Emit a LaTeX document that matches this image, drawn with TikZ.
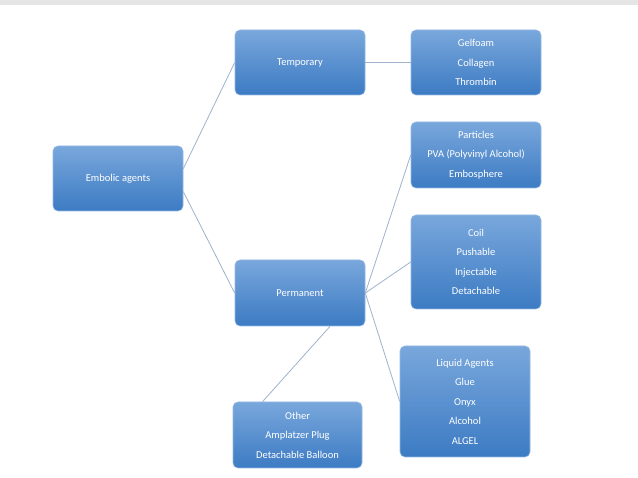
\documentclass[tikz,border=0pt]{standalone}
\usepackage{fontspec}
\setmainfont{Carlito}
\usetikzlibrary{calc}
\definecolor{btop}{HTML}{79A7DC}
\definecolor{bbot}{HTML}{3C7BC3}
\definecolor{edge}{HTML}{9FB3CC}
\begin{document}
\begin{tikzpicture}[x=1pt,y=-1pt,
 box/.style={rectangle,rounded corners=5pt,top color=btop,bottom color=bbot,draw=btop!80!white,line width=0.6pt,text=white,align=center,font=\fontsize{10.5}{19.5}\selectfont,inner sep=0pt},
 ln/.style={draw=edge,line width=0.8pt}]
\useasboundingbox[fill=white] (0,0) rectangle (638,478);
\fill[black!10] (0,0) rectangle (638,5);
\node[box,minimum width=130pt,minimum height=65pt] (emb) at (118,178.5) {Embolic agents};
\node[box,minimum width=130pt,minimum height=65pt] (temp) at (300,62.5) {Temporary};
\node[box,minimum width=130pt,minimum height=65pt] (gel) at (476,62.5) {Gelfoam\\Collagen\\Thrombin};
\node[box,minimum width=130pt,minimum height=66pt] (part) at (476,155) {Particles\\PVA (Polyvinyl Alcohol)\\Embosphere};
\node[box,minimum width=130pt,minimum height=94pt] (coil) at (476,262) {Coil\\Pushable\\Injectable\\Detachable};
\node[box,minimum width=130pt,minimum height=66pt] (perm) at (300,293) {Permanent};
\node[box,minimum width=130pt,minimum height=111pt] (liq) at (465,401.5) {Liquid Agents\\Glue\\Onyx\\Alcohol\\ALGEL};
\node[box,minimum width=129pt,minimum height=66pt] (oth) at (297.5,435) {Other\\Amplatzer Plug\\Detachable Balloon};
\draw[ln] ($(emb.north east)!0.35!(emb.south east)$) -- (temp.west);
\draw[ln] ($(emb.north east)!0.7!(emb.south east)$) -- (perm.west);
\draw[ln] (temp.east) -- (gel.west);
\draw[ln] (perm.east) -- (part.west);
\draw[ln] (perm.east) -- (coil.west);
\draw[ln] (perm.east) -- (liq.west);
\draw[ln] ($(oth.north west)!0.23!(oth.north east)$) -- ($(perm.south west)!0.73!(perm.south east)$);
\end{tikzpicture}
\end{document}
